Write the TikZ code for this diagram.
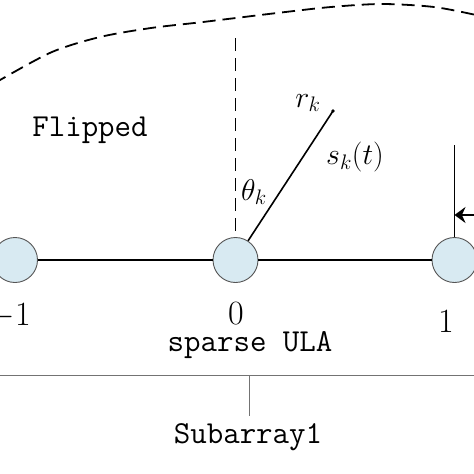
\RequirePackage{fix-cm}
\documentclass[tikz,border=0pt]{standalone}
\usepackage{tikz}
\usetikzlibrary{arrows.meta}
\definecolor{elemfill}{RGB}{216,234,242}
\definecolor{elemline}{RGB}{85,85,85}
\def\txtfont{\fontsize{32}{36}\selectfont\ttfamily}
\def\mathfont{\fontsize{30}{34}\selectfont}
\def\numfont{\fontsize{34}{38}\selectfont}

\begin{document}
\begin{tikzpicture}[x=1pt, y=-1pt,
	elem/.style={circle, draw=elemline, fill=elemfill, line width=0.9pt, minimum size=45pt, inner sep=0pt},
	lbl/.style={inner sep=0pt},
	dashline/.style={line width=1.8pt, dash pattern=on 13pt off 7pt},
	wire/.style={line width=1.6pt}]
			%%%%% START %%%%%
			\useasboundingbox (0, 0) rectangle (474, 474);
			
			\draw[dashline] plot[smooth] coordinates {(-4, 83) (0, 80) (52, 52) (100, 37) (151, 28) (203, 22) (277, 13) (331, 7) (382, 4) (434, 7) (476, 15)};
			
			\node[elem] (em1) at (15, 260) {};
			\node[elem] (e0) at (235.5, 260) {};
			\node[elem] (e1) at (454.5, 260) {};
			\draw[wire] (em1) -- (e0) -- (e1);
			
			\coordinate (ntop) at (235.5, 38);
			\draw[dashline] (ntop) -- (e0);
			
			\coordinate (rk) at (333, 111);
			\draw[wire] (e0) -- (rk);
			\fill (rk) circle (1.8);
			
			\coordinate (vtop) at (454.5, 145);
			\draw[wire] (vtop) -- (e1);
			\coordinate (arrfrom) at (480, 215);
			\coordinate (arrto) at (454.5, 215);
			\draw[wire, -{Stealth[length=11pt, width=16pt]}] (arrfrom) -- (arrto);
			
			\node[lbl] (rlbl) at (308, 103) {\mathfont $r_k$};
			\node[lbl] (slbl) at (355, 157) {\mathfont $s_k(t)$};
			\node[lbl] (thlbl) at (254, 192) {\mathfont $\theta_k$};
			\node[lbl] (flip) at (90, 130) {\txtfont Flipped};
			
			\node[lbl, anchor=east] (nm1) at (31, 316) {\numfont $-1$};
			\node[lbl] (n0) at (236, 314) {\numfont $0$};
			\node[lbl] (n1) at (446, 322) {\numfont $1$};
			\node[lbl] (ula) at (250, 345) {\txtfont sparse ULA};
			
			\coordinate (bl) at (0, 375);
			\coordinate (br) at (474, 375);
			\coordinate (tick) at (249, 375);
			\coordinate (tickend) at (249, 416);
			\draw[line width=0.9pt, color=black!55] (bl) -- (br);
			\draw[line width=0.9pt, color=black!55] (tick) -- (tickend);
			\node[lbl] (sub) at (248, 437) {\txtfont Subarray1};
			
			%%%%% END %%%%%
\end{tikzpicture}
\end{document}
